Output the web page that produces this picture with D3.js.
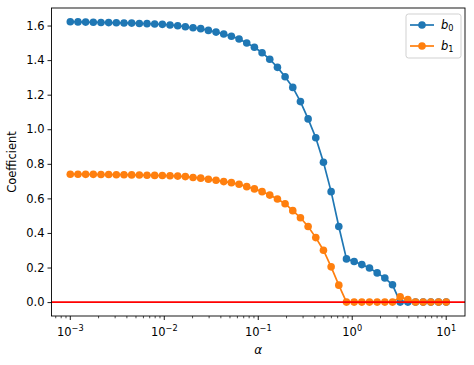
<!DOCTYPE html>
<html>
<head>
<meta charset="utf-8">
<script src="https://cdn.jsdelivr.net/npm/d3@7"></script>
<style>
  body { margin: 0; background: #fff; }
  text { font-family: "DejaVu Sans", sans-serif; fill: #000; }
</style>
</head>
<body>
<div id="chart"></div>
<script>
// alpha grid (np.logspace(-3, 1, 50))
var alphas = [0.001, 0.0012068, 0.0014563, 0.0017575, 0.0021210, 0.0025595, 0.0030888, 0.0037276,
  0.0044984, 0.0054287, 0.0065513, 0.0079060, 0.0095410, 0.011514, 0.013895, 0.016768,
  0.020236, 0.024421, 0.029471, 0.035565, 0.042919, 0.051795, 0.062506, 0.075431,
  0.091030, 0.10985, 0.13257, 0.15999, 0.19307, 0.23300, 0.28118, 0.33932,
  0.40949, 0.49417, 0.59636, 0.71969, 0.86851, 1.0481, 1.2649, 1.5264,
  1.8421, 2.2230, 2.6827, 3.2375, 3.9069, 4.7149, 5.6899, 6.8665, 8.2864, 10];

var b0 = [1.622, 1.621, 1.620, 1.619, 1.618, 1.617, 1.616, 1.615, 1.614, 1.612, 1.611, 1.609,
  1.607, 1.603, 1.599, 1.593, 1.587, 1.582, 1.572, 1.562, 1.551, 1.538, 1.522, 1.499,
  1.474, 1.443, 1.405, 1.358, 1.304, 1.242, 1.160, 1.060, 0.951, 0.809, 0.639, 0.437,
  0.250, 0.235, 0.217, 0.197, 0.169, 0.139, 0.100, 0.0, 0.0, 0.0, 0.0, 0.0, 0.0, 0.0];

var b1 = [0.740, 0.740, 0.739, 0.739, 0.738, 0.738, 0.737, 0.737, 0.736, 0.735, 0.734, 0.733,
  0.732, 0.731, 0.729, 0.726, 0.721, 0.717, 0.711, 0.705, 0.697, 0.691, 0.682, 0.668,
  0.655, 0.639, 0.619, 0.596, 0.569, 0.529, 0.488, 0.437, 0.373, 0.300, 0.204, 0.098,
  0.0, 0.0, 0.0, 0.0, 0.0, 0.0, 0.0, 0.030, 0.015, 0.0, 0.0, 0.0, 0.0, 0.0];

var series = [
  { name: "0", values: b0, color: "#1f77b4" },
  { name: "1", values: b1, color: "#ff7f0e" }
];
var yTicks = [0.0, 0.2, 0.4, 0.6, 0.8, 1.0, 1.2, 1.4, 1.6];
var xTicks = [-3, -2, -1, 0, 1];

var W = 474, H = 365;
var margin = { top: 8, right: 9, bottom: 49, left: 51.5 };
var width = W - margin.left - margin.right,
    height = H - margin.top - margin.bottom;

var svg = d3.select("#chart").append("svg")
    .attr("width", W)
    .attr("height", H);

var g = svg.append("g")
    .attr("transform", "translate(" + margin.left + "," + margin.top + ")");

var x = d3.scaleLog().domain([Math.pow(10, -3.2), Math.pow(10, 1.2)]).range([0, width]);
var y = d3.scaleLinear().domain([-0.0805, 1.7015]).range([height, 0]);

// y axis
var yAxis = g.append("g")
    .call(d3.axisLeft(y).tickValues(yTicks).tickSize(4).tickPadding(3)
      .tickFormat(d3.format(".1f")));
yAxis.select(".domain").remove();
yAxis.selectAll("line").attr("stroke", "#000").attr("stroke-width", 0.9);
yAxis.selectAll("text").style("font-size", "11.5px").attr("font-family", null);

// x axis major ticks
var xg = g.append("g").attr("transform", "translate(0," + height + ")");
xTicks.forEach(function(e) {
  var px = x(Math.pow(10, e));
  xg.append("line").attr("x1", px).attr("x2", px).attr("y1", 0).attr("y2", 4)
    .attr("stroke", "#000").attr("stroke-width", 0.9);
  var t = xg.append("text").attr("x", px).attr("y", 20)
    .attr("text-anchor", "middle").style("font-size", "11.5px");
  t.append("tspan").text("10");
  t.append("tspan").attr("dy", -5).style("font-size", "8.2px")
    .text(e < 0 ? "\u2212" + (-e) : String(e));
});
// minor ticks
var minor = [];
for (var e = -4; e <= 1; e++) {
  for (var m = 2; m <= 9; m++) {
    var v = m * Math.pow(10, e);
    if (v >= x.domain()[0] && v <= x.domain()[1]) minor.push(v);
  }
}
xg.selectAll(".minor").data(minor).enter().append("line")
  .attr("x1", function(d) { return x(d); }).attr("x2", function(d) { return x(d); })
  .attr("y1", 0).attr("y2", 2.3)
  .attr("stroke", "#000").attr("stroke-width", 0.7);

// lines + markers
var line = d3.line()
  .x(function(d, i) { return x(alphas[i]); })
  .y(function(d) { return y(d); });

series.forEach(function(s) {
  g.append("path")
    .datum(s.values)
    .attr("fill", "none")
    .attr("stroke", s.color)
    .attr("stroke-width", 1.7)
    .attr("d", line);
  g.selectAll(".dot" + s.name).data(s.values).enter().append("circle")
    .attr("cx", function(d, i) { return x(alphas[i]); })
    .attr("cy", function(d) { return y(d); })
    .attr("r", 3.8)
    .attr("fill", s.color);
});

// red zero line
g.append("line")
  .attr("x1", 0).attr("x2", width)
  .attr("y1", y(0)).attr("y2", y(0))
  .attr("stroke", "#ff0000").attr("stroke-width", 1.6);

// frame
g.append("rect")
  .attr("width", width).attr("height", height)
  .attr("fill", "none").attr("stroke", "#000").attr("stroke-width", 0.9);

// labels
g.append("text")
  .attr("x", width / 2).attr("y", height + 38)
  .attr("text-anchor", "middle")
  .style("font-size", "12px").style("font-style", "italic")
  .text("\u03b1");

svg.append("text")
  .attr("transform", "translate(16," + (margin.top + height / 2) + ") rotate(-90)")
  .attr("text-anchor", "middle")
  .style("font-size", "11.5px")
  .text("Coefficient");

// legend
var lg = g.append("g").attr("transform", "translate(" + (width - 59) + ",6)");
lg.append("rect")
  .attr("width", 55).attr("height", 44).attr("rx", 2.5)
  .attr("fill", "#fff").attr("fill-opacity", 0.8)
  .attr("stroke", "#cccccc").attr("stroke-width", 0.9);
series.forEach(function(s, i) {
  var yy = 11 + i * 21;
  lg.append("line").attr("x1", 4).attr("x2", 28).attr("y1", yy).attr("y2", yy)
    .attr("stroke", s.color).attr("stroke-width", 1.7);
  lg.append("circle").attr("cx", 16).attr("cy", yy).attr("r", 3.8).attr("fill", s.color);
  var t = lg.append("text").attr("x", 35).attr("y", yy + 4).style("font-size", "11.5px");
  t.append("tspan").style("font-style", "italic").text("b");
  t.append("tspan").attr("dy", 2).style("font-size", "8.2px").text(s.name);
});
</script>
</body>
</html>
